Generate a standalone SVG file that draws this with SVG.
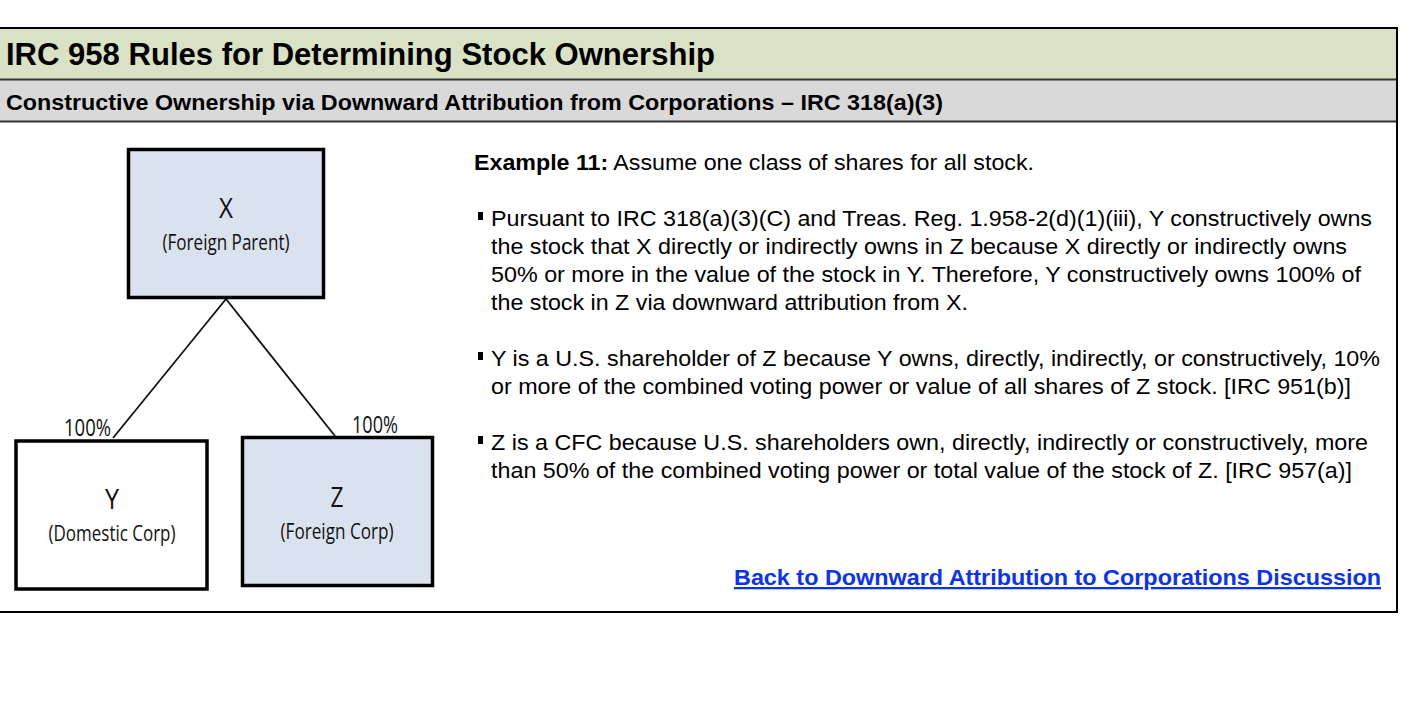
<svg xmlns="http://www.w3.org/2000/svg" width="1416" height="706" viewBox="0 0 1416 706">
<style>
.frame{stroke:#000;stroke-width:2;fill:none}
.node{stroke:#000;stroke-width:3.5}
.blue{fill:#dbe2ef}
.white{fill:#fff}
.nt{font-family:"Open Sans","Noto Sans",sans-serif;fill:#111;text-anchor:middle}
.big{font-size:28px}
.sub{font-size:21px}
.pct{font-family:"Open Sans","Noto Sans",sans-serif;font-size:23px;fill:#111}
.body{font-family:"Liberation Sans",Arial,sans-serif;font-size:22.5px;fill:#000}
.conn{stroke:#111;stroke-width:1.8;fill:none}
</style>
<rect x="0" y="0" width="1416" height="706" fill="#fff"/>
<g id="header">
<rect x="0" y="29" width="1397" height="50" fill="#d9e2c4"/>
<rect x="0" y="80" width="1397" height="41" fill="#d9d9d9"/>
<text x="6" y="65" font-family="Liberation Sans, Arial, sans-serif" font-size="31" font-weight="bold" textLength="709" lengthAdjust="spacingAndGlyphs">IRC 958 Rules for Determining Stock Ownership</text>
<text x="6" y="110" font-family="Liberation Sans, Arial, sans-serif" font-size="22" font-weight="bold" textLength="937" lengthAdjust="spacingAndGlyphs">Constructive Ownership via Downward Attribution from Corporations – IRC 318(a)(3)</text>
</g>
<g id="frame" class="frame">
<line x1="0" y1="28" x2="1398" y2="28"/>
<line x1="0" y1="79.5" x2="1398" y2="79.5" stroke="#333"/>
<line x1="0" y1="121.5" x2="1398" y2="121.5" stroke="#333"/>
<line x1="1397" y1="28" x2="1397" y2="613"/>
<line x1="0" y1="612" x2="1398" y2="612"/>
</g>
<g id="connectors">
<line class="conn" x1="226" y1="299" x2="113" y2="438"/>
<line class="conn" x1="226" y1="299" x2="335" y2="436"/>
<text class="pct" x="64" y="436" textLength="47" lengthAdjust="spacingAndGlyphs">100%</text>
<text class="pct" x="352" y="433" textLength="46" lengthAdjust="spacingAndGlyphs">100%</text>
</g>
<g id="node-x">
<rect class="node blue" x="128.5" y="149.5" width="195" height="148"/>
<text class="nt big" x="226" y="218" textLength="14" lengthAdjust="spacingAndGlyphs">X</text>
<text class="nt sub" x="226" y="250" textLength="127" lengthAdjust="spacingAndGlyphs">(Foreign Parent)</text>
</g>
<g id="node-y">
<rect class="node white" x="16" y="441" width="191" height="148"/>
<text class="nt big" x="112" y="509" textLength="14" lengthAdjust="spacingAndGlyphs">Y</text>
<text class="nt sub" x="112" y="541" textLength="127" lengthAdjust="spacingAndGlyphs">(Domestic Corp)</text>
</g>
<g id="node-z">
<rect class="node blue" x="242.5" y="437.5" width="190" height="148"/>
<text class="nt big" x="337" y="507" textLength="13" lengthAdjust="spacingAndGlyphs">Z</text>
<text class="nt sub" x="337" y="539" textLength="113" lengthAdjust="spacingAndGlyphs">(Foreign Corp)</text>
</g>
<g id="text">
<text class="body" x="474" y="170" textLength="560" lengthAdjust="spacingAndGlyphs"><tspan font-weight="bold">Example 11:</tspan> Assume one class of shares for all stock.</text>
<rect x="478" y="212" width="5" height="8" fill="#000"/>
<text class="body" x="491" y="226" textLength="881" lengthAdjust="spacingAndGlyphs">Pursuant to IRC 318(a)(3)(C) and Treas. Reg. 1.958-2(d)(1)(iii), Y constructively owns</text>
<text class="body" x="491" y="254" textLength="856" lengthAdjust="spacingAndGlyphs">the stock that X directly or indirectly owns in Z because X directly or indirectly owns</text>
<text class="body" x="491" y="282" textLength="870" lengthAdjust="spacingAndGlyphs">50% or more in the value of the stock in Y. Therefore, Y constructively owns 100% of</text>
<text class="body" x="491" y="310" textLength="477" lengthAdjust="spacingAndGlyphs">the stock in Z via downward attribution from X.</text>
<rect x="478" y="352" width="5" height="8" fill="#000"/>
<text class="body" x="491" y="366" textLength="889" lengthAdjust="spacingAndGlyphs">Y is a U.S. shareholder of Z because Y owns, directly, indirectly, or constructively, 10%</text>
<text class="body" x="491" y="394" textLength="860" lengthAdjust="spacingAndGlyphs">or more of the combined voting power or value of all shares of Z stock. [IRC 951(b)]</text>
<rect x="478" y="436" width="5" height="8" fill="#000"/>
<text class="body" x="491" y="450" textLength="877" lengthAdjust="spacingAndGlyphs">Z is a CFC because U.S. shareholders own, directly, indirectly or constructively, more</text>
<text class="body" x="491" y="478" textLength="861" lengthAdjust="spacingAndGlyphs">than 50% of the combined voting power or total value of the stock of Z. [IRC 957(a)]</text>
<text class="body" x="734" y="585" font-weight="bold" text-decoration="underline" textLength="647" lengthAdjust="spacingAndGlyphs" style="fill:#0b32f0">Back to Downward Attribution to Corporations Discussion</text>
</g>
</svg>
